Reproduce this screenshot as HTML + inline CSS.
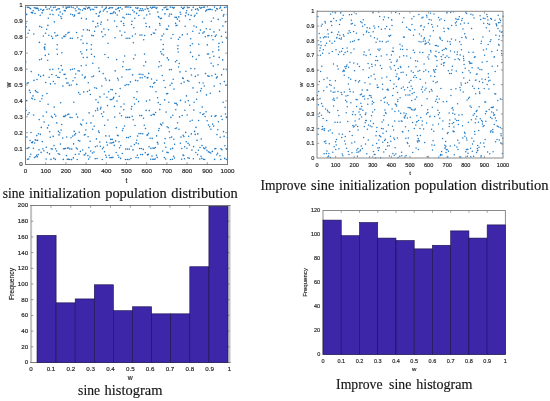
<!DOCTYPE html>
<html><head><meta charset="utf-8"><title>sine map figure</title>
<style>html,body{margin:0;padding:0;background:#fff}svg{display:block}</style></head>
<body>
<svg width="550" height="401" viewBox="0 0 550 401" font-family="'Liberation Sans', Arial, sans-serif">
<rect width="550" height="401" fill="#fff"/>
<path d="M25.7 61.9h0M25.9 23.2h0M26.1 110.5h0M26.3 26.7h0M26.5 100.5h0M26.7 14.4h0M26.9 137.0h0M27.1 83.2h0M27.3 7.2h0M27.5 159.2h0M27.7 148.2h0M27.9 114.5h0M28.1 33.2h0M28.3 82.7h0M28.5 7.3h0M28.7 159.0h0M28.9 147.6h0M29.1 112.8h0M29.3 30.3h0M29.5 90.4h0M29.7 8.0h0M29.9 156.7h0M30.1 140.5h0M30.3 92.5h0M30.6 8.8h0M30.8 154.2h0M31.0 132.5h0M31.2 71.6h0M31.4 12.6h0M31.6 142.5h0M31.8 98.3h0M32.0 12.5h0M32.2 142.7h0M32.4 98.8h0M32.6 12.9h0M32.8 141.7h0M33.0 95.9h0M33.2 10.7h0M33.4 148.3h0M33.6 115.0h0M33.8 34.0h0M34.0 80.4h0M34.2 7.7h0M34.4 157.5h0M34.6 143.0h0M34.8 99.5h0M35.0 13.5h0M35.2 139.7h0M35.4 90.5h0M35.6 8.0h0M35.8 156.7h0M36.0 140.2h0M36.2 91.8h0M36.4 8.5h0M36.6 155.2h0M36.8 135.6h0M37.0 79.5h0M37.2 8.0h0M37.4 156.7h0M37.6 140.4h0M37.8 92.2h0M38.0 8.7h0M38.2 154.6h0M38.4 133.8h0M38.6 74.9h0M38.8 10.2h0M39.0 149.8h0M39.2 119.6h0M39.4 42.4h0M39.6 59.7h0M39.8 26.4h0M40.0 101.3h0M40.2 15.2h0M40.4 134.4h0M40.6 76.4h0M40.9 9.4h0M41.1 152.4h0M41.3 127.4h0M41.5 59.1h0M41.7 27.3h0M41.9 98.8h0M42.1 12.9h0M42.3 141.6h0M42.5 95.7h0M42.7 10.6h0M42.9 148.7h0M43.1 116.1h0M43.3 36.0h0M43.5 75.4h0M43.7 9.9h0M43.9 150.7h0M44.1 122.1h0M44.3 47.6h0M44.5 48.2h0M44.7 47.0h0M44.9 49.5h0M45.1 44.2h0M45.3 55.4h0M45.5 33.2h0M45.7 82.5h0M45.9 7.3h0M46.1 159.0h0M46.3 147.3h0M46.5 112.1h0M46.7 29.2h0M46.9 93.5h0M47.1 9.3h0M47.3 152.6h0M47.5 127.9h0M47.7 60.3h0M47.9 25.4h0M48.1 104.2h0M48.3 18.3h0M48.5 125.2h0M48.7 54.3h0M48.9 35.2h0M49.1 77.3h0M49.3 8.9h0M49.5 153.9h0M49.7 131.8h0M49.9 69.6h0M50.1 14.3h0M50.3 137.3h0M50.5 83.9h0M50.8 7.1h0M51.0 159.4h0M51.2 148.8h0M51.4 116.3h0M51.6 36.3h0M51.8 74.5h0M52.0 10.4h0M52.2 149.1h0M52.4 117.5h0M52.6 38.4h0M52.8 69.3h0M53.0 14.6h0M53.2 136.4h0M53.4 81.5h0M53.6 7.5h0M53.8 158.4h0M54.0 145.6h0M54.2 107.1h0M54.4 21.9h0M54.6 114.3h0M54.8 32.8h0M55.0 83.8h0M55.2 7.1h0M55.4 159.4h0M55.6 148.7h0M55.8 116.1h0M56.0 35.9h0M56.2 75.5h0M56.4 9.9h0M56.6 151.0h0M56.8 122.9h0M57.0 49.2h0M57.2 44.8h0M57.4 54.3h0M57.6 35.2h0M57.8 77.2h0M58.0 8.9h0M58.2 153.8h0M58.4 131.4h0M58.6 68.8h0M58.8 15.1h0M59.0 134.9h0M59.2 77.5h0M59.4 8.8h0M59.6 154.2h0M59.8 132.8h0M60.0 72.2h0M60.2 12.1h0M60.4 144.1h0M60.6 102.7h0M60.9 16.6h0M61.1 130.1h0M61.3 65.6h0M61.5 18.5h0M61.7 124.5h0M61.9 52.7h0M62.1 38.1h0M62.3 69.9h0M62.5 14.0h0M62.7 138.1h0M62.9 86.1h0M63.1 7.1h0M63.3 159.4h0M63.5 148.8h0M63.7 116.4h0M63.9 36.4h0M64.1 74.4h0M64.3 10.6h0M64.5 148.8h0M64.7 116.4h0M64.9 36.4h0M65.1 74.2h0M65.3 10.7h0M65.5 148.5h0M65.7 115.4h0M65.9 34.7h0M66.1 78.6h0M66.3 8.4h0M66.5 155.6h0M66.7 137.0h0M66.9 83.1h0M67.1 7.2h0M67.3 159.2h0M67.5 148.1h0M67.7 114.5h0M67.9 33.0h0M68.1 83.0h0M68.3 7.2h0M68.5 159.2h0M68.7 148.0h0M68.9 114.0h0M69.1 32.2h0M69.3 85.4h0M69.5 7.1h0M69.7 159.5h0M69.9 149.1h0M70.1 117.4h0M70.3 38.2h0M70.5 69.8h0M70.7 14.2h0M71.0 137.7h0M71.2 85.0h0M71.4 7.1h0M71.6 159.6h0M71.8 149.1h0M72.0 117.5h0M72.2 38.4h0M72.4 69.2h0M72.6 14.7h0M72.8 136.1h0M73.0 80.8h0M73.2 7.6h0M73.4 157.9h0M73.6 143.9h0M73.8 102.3h0M74.0 16.2h0M74.2 131.4h0M74.4 68.8h0M74.6 15.1h0M74.8 134.9h0M75.0 77.7h0M75.2 8.7h0M75.4 154.5h0M75.6 133.5h0M75.8 74.0h0M76.0 10.8h0M76.2 148.0h0M76.4 114.2h0M76.6 32.5h0M76.8 84.4h0M77.0 7.1h0M77.2 159.5h0M77.4 149.0h0M77.6 117.1h0M77.8 37.8h0M78.0 70.8h0M78.2 13.3h0M78.4 140.5h0M78.6 92.6h0M78.8 8.9h0M79.0 154.1h0M79.2 132.3h0M79.4 71.0h0M79.6 13.1h0M79.8 141.1h0M80.0 94.3h0M80.2 9.7h0M80.4 151.4h0M80.6 124.1h0M80.8 51.8h0M81.0 39.8h0M81.3 65.8h0M81.5 18.3h0M81.7 125.0h0M81.9 53.8h0M82.1 36.1h0M82.3 75.0h0M82.5 10.2h0M82.7 150.0h0M82.9 120.0h0M83.1 43.3h0M83.3 57.5h0M83.5 29.7h0M83.7 91.9h0M83.9 8.6h0M84.1 155.0h0M84.3 135.0h0M84.5 78.0h0M84.7 8.6h0M84.9 154.8h0M85.1 134.6h0M85.3 76.9h0M85.5 9.1h0M85.7 153.3h0M85.9 130.0h0M86.1 65.3h0M86.3 18.9h0M86.5 123.2h0M86.7 49.9h0M86.9 43.4h0M87.1 57.4h0M87.3 29.9h0M87.5 91.5h0M87.7 8.4h0M87.9 155.6h0M88.1 136.8h0M88.3 82.7h0M88.5 7.3h0M88.7 159.1h0M88.9 147.6h0M89.1 112.9h0M89.3 30.4h0M89.5 90.2h0M89.7 7.9h0M89.9 157.0h0M90.1 141.2h0M90.3 94.5h0M90.5 9.9h0M90.7 151.0h0M90.9 122.9h0M91.2 49.2h0M91.4 44.8h0M91.6 54.2h0M91.8 35.4h0M92.0 76.7h0M92.2 9.2h0M92.4 153.0h0M92.6 129.2h0M92.8 63.3h0M93.0 21.4h0M93.2 116.0h0M93.4 35.7h0M93.6 76.1h0M93.8 9.5h0M94.0 152.1h0M94.2 126.3h0M94.4 56.6h0M94.6 31.3h0M94.8 87.8h0M95.0 7.3h0M95.2 158.8h0M95.4 146.8h0M95.6 110.7h0M95.8 26.9h0M96.0 99.8h0M96.2 13.8h0M96.4 138.9h0M96.6 88.3h0M96.8 7.4h0M97.0 158.5h0M97.2 146.0h0M97.4 108.2h0M97.6 23.4h0M97.8 110.1h0M98.0 26.0h0M98.2 102.4h0M98.4 16.3h0M98.6 131.1h0M98.8 68.0h0M99.0 15.9h0M99.2 132.5h0M99.4 71.4h0M99.6 12.8h0M99.8 142.0h0M100.0 96.9h0M100.2 11.4h0M100.4 146.2h0M100.6 108.9h0M100.8 24.3h0M101.0 107.3h0M101.2 22.1h0M101.5 113.8h0M101.7 31.9h0M101.9 86.0h0M102.1 7.1h0M102.3 159.5h0M102.5 148.8h0M102.7 116.5h0M102.9 36.6h0M103.1 73.6h0M103.3 11.0h0M103.5 147.3h0M103.7 112.0h0M103.9 29.0h0M104.1 94.0h0M104.3 9.6h0M104.5 151.8h0M104.7 125.3h0M104.9 54.5h0M105.1 34.8h0M105.3 78.3h0M105.5 8.5h0M105.7 155.2h0M105.9 135.9h0M106.1 80.1h0M106.3 7.8h0M106.5 157.3h0M106.7 142.2h0M106.9 97.3h0M107.1 11.8h0M107.3 145.1h0M107.5 105.6h0M107.7 20.0h0M107.9 120.0h0M108.1 43.3h0M108.3 57.5h0M108.5 29.8h0M108.7 91.7h0M108.9 8.5h0M109.1 155.3h0M109.3 136.0h0M109.5 80.4h0M109.7 7.7h0M109.9 157.6h0M110.1 143.0h0M110.3 99.6h0M110.5 13.6h0M110.7 139.4h0M110.9 89.6h0M111.1 7.7h0M111.3 157.6h0M111.6 143.0h0M111.8 99.6h0M112.0 13.6h0M112.2 139.4h0M112.4 89.7h0M112.6 7.8h0M112.8 157.4h0M113.0 142.6h0M113.2 98.6h0M113.4 12.7h0M113.6 142.2h0M113.8 97.2h0M114.0 11.7h0M114.2 145.4h0M114.4 106.4h0M114.6 21.0h0M114.8 117.1h0M115.0 37.7h0M115.2 70.9h0M115.4 13.1h0M115.6 140.9h0M115.8 93.6h0M116.0 9.4h0M116.2 152.5h0M116.4 127.6h0M116.6 59.6h0M116.8 26.5h0M117.0 101.1h0M117.2 15.0h0M117.4 135.2h0M117.6 78.3h0M117.8 8.5h0M118.0 155.2h0M118.2 135.8h0M118.4 80.0h0M118.6 7.9h0M118.8 157.2h0M119.0 141.8h0M119.2 96.2h0M119.4 10.9h0M119.6 147.7h0M119.8 113.3h0M120.0 31.0h0M120.2 88.5h0M120.4 7.5h0M120.6 158.4h0M120.8 145.5h0M121.0 106.8h0M121.2 21.4h0M121.5 115.8h0M121.7 35.3h0M121.9 77.0h0M122.1 9.0h0M122.3 153.5h0M122.5 130.6h0M122.7 66.8h0M122.9 17.2h0M123.1 128.5h0M123.3 61.7h0M123.5 23.5h0M123.7 109.7h0M123.9 25.5h0M124.1 104.0h0M124.3 18.0h0M124.5 126.0h0M124.7 56.0h0M124.9 32.2h0M125.1 85.4h0M125.3 7.1h0M125.5 159.5h0M125.7 149.1h0M125.9 117.4h0M126.1 38.2h0M126.3 69.7h0M126.5 14.2h0M126.7 137.6h0M126.9 84.6h0M127.1 7.1h0M127.3 159.5h0M127.5 149.1h0M127.7 117.4h0M127.9 38.2h0M128.1 69.8h0M128.3 14.2h0M128.5 137.6h0M128.7 84.8h0M128.9 7.1h0M129.1 159.6h0M129.3 149.1h0M129.5 117.4h0M129.7 38.3h0M129.9 69.4h0M130.1 14.5h0M130.3 136.5h0M130.5 81.9h0M130.7 7.4h0M130.9 158.6h0M131.1 146.3h0M131.3 109.1h0M131.6 24.5h0M131.8 106.6h0M132.0 21.3h0M132.2 116.2h0M132.4 36.1h0M132.6 74.9h0M132.8 10.2h0M133.0 149.9h0M133.2 119.8h0M133.4 42.8h0M133.6 58.8h0M133.8 27.7h0M134.0 97.6h0M134.2 11.9h0M134.4 144.6h0M134.6 104.1h0M134.8 18.2h0M135.0 125.5h0M135.2 55.0h0M135.4 34.0h0M135.6 80.4h0M135.8 7.7h0M136.0 157.5h0M136.2 142.9h0M136.4 99.3h0M136.6 13.4h0M136.8 140.2h0M137.0 91.7h0M137.2 8.5h0M137.4 155.3h0M137.6 136.1h0M137.8 80.7h0M138.0 7.7h0M138.2 157.8h0M138.4 143.7h0M138.6 101.6h0M138.8 15.5h0M139.0 133.6h0M139.2 74.2h0M139.4 10.6h0M139.6 148.5h0M139.8 115.6h0M140.0 35.1h0M140.2 77.7h0M140.4 8.7h0M140.6 154.5h0M140.8 133.6h0M141.0 74.2h0M141.2 10.6h0M141.4 148.5h0M141.7 115.6h0M141.9 35.0h0M142.1 77.8h0M142.3 8.7h0M142.5 154.6h0M142.7 133.8h0M142.9 74.7h0M143.1 10.4h0M143.3 149.4h0M143.5 118.2h0M143.7 39.8h0M143.9 65.8h0M144.1 18.3h0M144.3 125.2h0M144.5 54.1h0M144.7 35.5h0M144.9 76.6h0M145.1 9.3h0M145.3 152.8h0M145.5 128.5h0M145.7 61.9h0M145.9 23.3h0M146.1 110.4h0M146.3 26.5h0M146.5 101.1h0M146.7 15.0h0M146.9 135.1h0M147.1 78.0h0M147.3 8.6h0M147.5 154.9h0M147.7 134.9h0M147.9 77.6h0M148.1 8.8h0M148.3 154.4h0M148.5 133.3h0M148.7 73.4h0M148.9 11.2h0M149.1 146.8h0M149.3 110.6h0M149.5 26.9h0M149.7 100.0h0M149.9 14.0h0M150.1 138.3h0M150.3 86.6h0M150.5 7.2h0M150.7 159.3h0M150.9 148.4h0M151.1 115.4h0M151.3 34.6h0M151.5 79.0h0M151.8 8.2h0M152.0 156.1h0M152.2 138.4h0M152.4 86.9h0M152.6 7.2h0M152.8 159.2h0M153.0 148.1h0M153.2 114.4h0M153.4 33.0h0M153.6 83.2h0M153.8 7.2h0M154.0 159.2h0M154.2 148.2h0M154.4 114.6h0M154.6 33.2h0M154.8 82.6h0M155.0 7.3h0M155.2 159.0h0M155.4 147.5h0M155.6 112.5h0M155.8 29.8h0M156.0 91.7h0M156.2 8.5h0M156.4 155.3h0M156.6 135.9h0M156.8 80.2h0M157.0 7.8h0M157.2 157.4h0M157.4 142.4h0M157.6 97.8h0M157.8 12.1h0M158.0 144.0h0M158.2 102.6h0M158.4 16.5h0M158.6 130.6h0M158.8 66.8h0M159.0 17.2h0M159.2 128.5h0M159.4 61.7h0M159.6 23.5h0M159.8 109.6h0M160.0 25.3h0M160.2 104.5h0M160.4 18.6h0M160.6 124.1h0M160.8 51.8h0M161.0 39.8h0M161.2 65.8h0M161.4 18.3h0M161.6 125.1h0M161.8 53.9h0M162.1 35.9h0M162.3 75.5h0M162.5 9.8h0M162.7 151.0h0M162.9 123.0h0M163.1 49.4h0M163.3 44.5h0M163.5 55.0h0M163.7 34.0h0M163.9 80.5h0M164.1 7.7h0M164.3 157.6h0M164.5 143.1h0M164.7 99.9h0M164.9 13.9h0M165.1 138.6h0M165.3 87.5h0M165.5 7.3h0M165.7 159.0h0M165.9 147.3h0M166.1 112.1h0M166.3 29.1h0M166.5 93.7h0M166.7 9.4h0M166.9 152.3h0M167.1 126.8h0M167.3 57.9h0M167.5 29.2h0M167.7 93.6h0M167.9 9.3h0M168.1 152.6h0M168.3 127.7h0M168.5 59.9h0M168.7 26.1h0M168.9 102.2h0M169.1 16.1h0M169.3 131.8h0M169.5 69.8h0M169.7 14.1h0M169.9 137.8h0M170.1 85.3h0M170.3 7.1h0M170.5 159.5h0M170.7 149.1h0M170.9 117.4h0M171.1 38.3h0M171.3 69.6h0M171.5 14.3h0M171.7 137.1h0M171.9 83.4h0M172.2 7.2h0M172.4 159.3h0M172.6 148.4h0M172.8 115.3h0M173.0 34.5h0M173.2 79.2h0M173.4 8.1h0M173.6 156.3h0M173.8 139.2h0M174.0 89.1h0M174.2 7.6h0M174.4 158.0h0M174.6 144.3h0M174.8 103.2h0M175.0 17.2h0M175.2 128.5h0M175.4 61.7h0M175.6 23.4h0M175.8 109.8h0M176.0 25.7h0M176.2 103.4h0M176.4 17.4h0M176.6 128.0h0M176.8 60.5h0M177.0 25.2h0M177.2 104.9h0M177.4 19.1h0M177.6 122.7h0M177.8 48.7h0M178.0 45.8h0M178.2 52.0h0M178.4 39.3h0M178.6 67.0h0M178.8 16.9h0M179.0 129.3h0M179.2 63.5h0M179.4 21.0h0M179.6 116.9h0M179.8 37.3h0M180.0 71.9h0M180.2 12.3h0M180.4 143.3h0M180.6 100.4h0M180.8 14.3h0M181.0 137.1h0M181.2 83.5h0M181.4 7.2h0M181.6 159.3h0M181.8 148.5h0M182.1 115.5h0M182.3 34.9h0M182.5 78.1h0M182.7 8.5h0M182.9 155.0h0M183.1 135.2h0M183.3 78.5h0M183.5 8.4h0M183.7 155.5h0M183.9 136.6h0M184.1 82.1h0M184.3 7.3h0M184.5 158.8h0M184.7 146.7h0M184.9 110.2h0M185.1 26.2h0M185.3 102.0h0M185.5 15.9h0M185.7 132.4h0M185.9 71.2h0M186.1 12.9h0M186.3 141.7h0M186.5 95.9h0M186.7 10.7h0M186.9 148.3h0M187.1 115.0h0M187.3 34.0h0M187.5 80.6h0M187.7 7.7h0M187.9 157.7h0M188.1 143.4h0M188.3 100.7h0M188.5 14.6h0M188.7 136.3h0M188.9 81.2h0M189.1 7.5h0M189.3 158.2h0M189.5 145.0h0M189.7 105.3h0M189.9 19.6h0M190.1 121.2h0M190.3 45.6h0M190.5 52.4h0M190.7 38.7h0M190.9 68.5h0M191.1 15.4h0M191.3 133.9h0M191.5 75.0h0M191.7 10.1h0M191.9 150.1h0M192.2 120.2h0M192.4 43.7h0M192.6 56.6h0M192.8 31.2h0M193.0 87.9h0M193.2 7.4h0M193.4 158.7h0M193.6 146.6h0M193.8 110.1h0M194.0 26.0h0M194.2 102.3h0M194.4 16.2h0M194.6 131.4h0M194.8 68.7h0M195.0 15.2h0M195.2 134.4h0M195.4 76.4h0M195.6 9.4h0M195.8 152.5h0M196.0 127.4h0M196.2 59.2h0M196.4 27.1h0M196.6 99.3h0M196.8 13.3h0M197.0 140.4h0M197.2 92.2h0M197.4 8.7h0M197.6 154.6h0M197.8 133.9h0M198.0 75.1h0M198.2 10.1h0M198.4 150.2h0M198.6 120.5h0M198.8 44.2h0M199.0 55.4h0M199.2 33.2h0M199.4 82.7h0M199.6 7.3h0M199.8 159.0h0M200.0 147.5h0M200.2 112.7h0M200.4 30.1h0M200.6 90.9h0M200.8 8.2h0M201.0 156.3h0M201.2 139.0h0M201.4 88.5h0M201.6 7.5h0M201.8 158.4h0M202.0 145.6h0M202.2 107.1h0M202.5 21.9h0M202.7 114.5h0M202.9 33.1h0M203.1 83.0h0M203.3 7.2h0M203.5 159.2h0M203.7 147.9h0M203.9 113.8h0M204.1 31.9h0M204.3 86.0h0M204.5 7.1h0M204.7 159.5h0M204.9 148.8h0M205.1 116.5h0M205.3 36.7h0M205.5 73.6h0M205.7 11.1h0M205.9 147.2h0M206.1 111.8h0M206.3 28.7h0M206.5 94.9h0M206.7 10.1h0M206.9 150.3h0M207.1 120.8h0M207.3 44.9h0M207.5 54.0h0M207.7 35.8h0M207.9 75.9h0M208.1 9.6h0M208.3 151.7h0M208.5 125.1h0M208.7 54.0h0M208.9 35.6h0M209.1 76.2h0M209.3 9.4h0M209.5 152.3h0M209.7 126.8h0M209.9 57.8h0M210.1 29.3h0M210.3 93.3h0M210.5 9.2h0M210.7 153.0h0M210.9 129.2h0M211.1 63.3h0M211.3 21.3h0M211.5 116.1h0M211.7 35.8h0M211.9 75.7h0M212.1 9.7h0M212.3 151.4h0M212.6 124.1h0M212.8 51.8h0M213.0 39.7h0M213.2 66.1h0M213.4 18.0h0M213.6 126.1h0M213.8 56.2h0M214.0 31.9h0M214.2 86.1h0M214.4 7.1h0M214.6 159.4h0M214.8 148.8h0M215.0 116.4h0M215.2 36.4h0M215.4 74.2h0M215.6 10.7h0M215.8 148.5h0M216.0 115.6h0M216.2 35.0h0M216.4 78.0h0M216.6 8.6h0M216.8 154.8h0M217.0 134.6h0M217.2 76.9h0M217.4 9.1h0M217.6 153.2h0M217.8 129.8h0M218.0 64.8h0M218.2 19.4h0M218.4 121.7h0M218.6 46.8h0M218.8 49.9h0M219.0 43.4h0M219.2 57.4h0M219.4 30.0h0M219.6 91.4h0M219.8 8.3h0M220.0 155.7h0M220.2 137.3h0M220.4 83.8h0M220.6 7.1h0M220.8 159.4h0M221.0 148.7h0M221.2 116.2h0M221.4 36.2h0M221.6 74.9h0M221.8 10.2h0M222.0 149.8h0M222.2 119.5h0M222.4 42.3h0M222.7 59.9h0M222.9 26.1h0M223.1 102.2h0M223.3 16.1h0M223.5 131.6h0M223.7 69.3h0M223.9 14.6h0M224.1 136.4h0M224.3 81.6h0M224.5 7.5h0M224.7 158.4h0M224.9 145.7h0M225.1 107.2h0M225.3 22.0h0M225.5 114.0h0M225.7 32.2h0M225.9 85.3h0M226.1 7.1h0M226.3 159.5h0M226.5 149.1h0M226.7 117.4h0M226.9 38.2h0M227.1 69.7h0M227.3 14.3h0M227.5 137.4h0" stroke="#1f7bc6" stroke-width="1.56" stroke-linecap="round" fill="none"/>
<rect x="25.50" y="5.50" width="202.00" height="159.00" fill="none" stroke="#7c7c7c" stroke-width="1.0"/>
<path d="M45.70 164.50v-2.2M45.70 5.50v2.2M65.90 164.50v-2.2M65.90 5.50v2.2M86.10 164.50v-2.2M86.10 5.50v2.2M106.30 164.50v-2.2M106.30 5.50v2.2M126.50 164.50v-2.2M126.50 5.50v2.2M146.70 164.50v-2.2M146.70 5.50v2.2M166.90 164.50v-2.2M166.90 5.50v2.2M187.10 164.50v-2.2M187.10 5.50v2.2M207.30 164.50v-2.2M207.30 5.50v2.2M25.50 148.60h2.2M227.50 148.60h-2.2M25.50 132.70h2.2M227.50 132.70h-2.2M25.50 116.80h2.2M227.50 116.80h-2.2M25.50 100.90h2.2M227.50 100.90h-2.2M25.50 85.00h2.2M227.50 85.00h-2.2M25.50 69.10h2.2M227.50 69.10h-2.2M25.50 53.20h2.2M227.50 53.20h-2.2M25.50 37.30h2.2M227.50 37.30h-2.2M25.50 21.40h2.2M227.50 21.40h-2.2" stroke="#7c7c7c" stroke-width="0.8" fill="none"/>
<g font-size="6.2" fill="#222" stroke="#222" stroke-width="0.16">
<text x="25.50" y="173.40" text-anchor="middle">0</text>
<text x="45.70" y="173.40" text-anchor="middle">100</text>
<text x="65.90" y="173.40" text-anchor="middle">200</text>
<text x="86.10" y="173.40" text-anchor="middle">300</text>
<text x="106.30" y="173.40" text-anchor="middle">400</text>
<text x="126.50" y="173.40" text-anchor="middle">500</text>
<text x="146.70" y="173.40" text-anchor="middle">600</text>
<text x="166.90" y="173.40" text-anchor="middle">700</text>
<text x="187.10" y="173.40" text-anchor="middle">800</text>
<text x="207.30" y="173.40" text-anchor="middle">900</text>
<text x="227.50" y="173.40" text-anchor="middle">1000</text>
<text x="22.80" y="166.42" text-anchor="end">0</text>
<text x="22.80" y="150.52" text-anchor="end">0.1</text>
<text x="22.80" y="134.62" text-anchor="end">0.2</text>
<text x="22.80" y="118.72" text-anchor="end">0.3</text>
<text x="22.80" y="102.82" text-anchor="end">0.4</text>
<text x="22.80" y="86.92" text-anchor="end">0.5</text>
<text x="22.80" y="71.02" text-anchor="end">0.6</text>
<text x="22.80" y="55.12" text-anchor="end">0.7</text>
<text x="22.80" y="39.22" text-anchor="end">0.8</text>
<text x="22.80" y="23.32" text-anchor="end">0.9</text>
<text x="22.80" y="7.42" text-anchor="end">1</text>
</g>
<g font-size="6.8" fill="#222" stroke="#222" stroke-width="0.16">
<text x="126.50" y="182.80" text-anchor="middle">t</text>
<text transform="translate(10.60 85.00) rotate(-90)" text-anchor="middle">w</text>
</g>
<path d="M317.2 99.2h0M317.4 95.6h0M317.6 11.3h0M317.7 70.4h0M317.9 16.6h0M318.1 134.3h0M318.3 104.7h0M318.5 128.6h0M318.7 91.5h0M318.9 44.8h0M319.0 116.5h0M319.2 33.4h0M319.4 81.6h0M319.6 113.0h0M319.8 50.7h0M320.0 98.4h0M320.2 48.0h0M320.3 37.7h0M320.5 55.3h0M320.7 71.4h0M320.9 41.7h0M321.1 45.5h0M321.3 25.9h0M321.5 115.3h0M321.6 103.6h0M321.8 66.3h0M322.0 129.4h0M322.2 24.2h0M322.4 126.6h0M322.6 53.2h0M322.8 106.3h0M323.0 128.9h0M323.1 118.5h0M323.3 49.8h0M323.5 37.7h0M323.7 90.8h0M323.9 79.6h0M324.1 153.8h0M324.3 130.5h0M324.4 141.8h0M324.6 128.8h0M324.8 36.8h0M325.0 21.5h0M325.2 45.6h0M325.4 23.1h0M325.6 109.0h0M325.7 141.1h0M325.9 143.3h0M326.1 37.0h0M326.3 153.6h0M326.5 43.3h0M326.7 120.6h0M326.9 87.1h0M327.0 151.0h0M327.2 78.1h0M327.4 110.2h0M327.6 29.7h0M327.8 157.1h0M328.0 111.7h0M328.2 34.1h0M328.3 37.0h0M328.5 130.9h0M328.7 155.9h0M328.9 153.4h0M329.1 53.2h0M329.3 143.7h0M329.5 112.5h0M329.6 84.6h0M329.8 41.1h0M330.0 80.4h0M330.2 130.1h0M330.4 157.4h0M330.6 13.9h0M330.8 21.4h0M330.9 91.1h0M331.1 85.2h0M331.3 21.5h0M331.5 32.6h0M331.7 25.4h0M331.9 32.2h0M332.1 43.3h0M332.3 51.5h0M332.4 133.1h0M332.6 12.0h0M332.8 152.3h0M333.0 99.7h0M333.2 92.3h0M333.4 63.9h0M333.6 106.0h0M333.7 18.4h0M333.9 98.2h0M334.1 146.8h0M334.3 88.1h0M334.5 100.2h0M334.7 41.3h0M334.9 91.9h0M335.0 122.3h0M335.2 12.8h0M335.4 80.8h0M335.6 141.8h0M335.8 149.5h0M336.0 49.8h0M336.2 145.0h0M336.3 20.7h0M336.5 139.6h0M336.7 37.9h0M336.9 37.4h0M337.1 98.0h0M337.3 66.0h0M337.5 122.2h0M337.6 34.5h0M337.8 110.4h0M338.0 91.6h0M338.2 69.1h0M338.4 54.4h0M338.6 32.1h0M338.8 115.5h0M338.9 148.8h0M339.1 134.0h0M339.3 38.6h0M339.5 24.6h0M339.7 52.1h0M339.9 35.3h0M340.1 122.2h0M340.2 19.7h0M340.4 20.0h0M340.6 13.0h0M340.8 12.7h0M341.0 39.2h0M341.2 92.5h0M341.4 37.9h0M341.6 51.3h0M341.7 137.6h0M341.9 94.5h0M342.1 18.5h0M342.3 154.1h0M342.5 134.2h0M342.7 48.4h0M342.9 155.8h0M343.0 71.5h0M343.2 15.3h0M343.4 34.8h0M343.6 70.3h0M343.8 54.5h0M344.0 36.3h0M344.2 75.2h0M344.3 92.1h0M344.5 70.9h0M344.7 140.9h0M344.9 66.8h0M345.1 52.4h0M345.3 136.5h0M345.5 144.0h0M345.6 100.3h0M345.8 68.6h0M346.0 95.9h0M346.2 112.8h0M346.4 66.5h0M346.6 148.2h0M346.8 101.7h0M346.9 65.0h0M347.1 47.9h0M347.3 106.7h0M347.5 51.6h0M347.7 121.6h0M347.9 95.4h0M348.1 33.2h0M348.2 151.6h0M348.4 83.9h0M348.6 67.2h0M348.8 77.7h0M349.0 154.4h0M349.2 30.8h0M349.4 14.8h0M349.6 89.3h0M349.7 131.4h0M349.9 62.3h0M350.1 91.6h0M350.3 32.6h0M350.5 41.9h0M350.7 79.2h0M350.9 102.8h0M351.0 52.8h0M351.2 24.1h0M351.4 20.3h0M351.6 14.4h0M351.8 142.9h0M352.0 152.7h0M352.2 135.4h0M352.3 23.6h0M352.5 114.4h0M352.7 41.6h0M352.9 125.4h0M353.1 111.8h0M353.3 91.9h0M353.5 126.9h0M353.6 31.5h0M353.8 63.0h0M354.0 49.1h0M354.2 126.3h0M354.4 40.7h0M354.6 70.8h0M354.8 142.1h0M354.9 25.2h0M355.1 120.9h0M355.3 114.8h0M355.5 80.6h0M355.7 80.7h0M355.9 125.0h0M356.1 99.6h0M356.2 13.8h0M356.4 33.3h0M356.6 106.5h0M356.8 150.0h0M357.0 152.3h0M357.2 99.7h0M357.4 156.3h0M357.5 64.1h0M357.7 126.4h0M357.9 148.6h0M358.1 130.0h0M358.3 39.7h0M358.5 81.9h0M358.7 151.9h0M358.9 39.4h0M359.0 112.1h0M359.2 119.0h0M359.4 66.4h0M359.6 80.8h0M359.8 109.1h0M360.0 150.9h0M360.2 114.8h0M360.3 94.8h0M360.5 149.9h0M360.7 21.8h0M360.9 103.2h0M361.1 108.9h0M361.3 145.9h0M361.5 94.1h0M361.6 116.9h0M361.8 106.6h0M362.0 22.7h0M362.2 90.1h0M362.4 148.5h0M362.6 26.3h0M362.8 96.4h0M362.9 110.2h0M363.1 69.7h0M363.3 19.7h0M363.5 34.8h0M363.7 137.5h0M363.9 54.8h0M364.1 95.9h0M364.2 52.0h0M364.4 126.5h0M364.6 98.9h0M364.8 24.7h0M365.0 82.8h0M365.2 122.8h0M365.4 114.5h0M365.5 144.1h0M365.7 120.5h0M365.9 112.9h0M366.1 55.4h0M366.3 120.5h0M366.5 31.9h0M366.7 31.1h0M366.8 153.8h0M367.0 90.1h0M367.2 27.7h0M367.4 129.3h0M367.6 89.9h0M367.8 104.2h0M368.0 98.7h0M368.1 63.4h0M368.3 140.0h0M368.5 125.1h0M368.7 77.5h0M368.9 32.5h0M369.1 50.1h0M369.3 67.9h0M369.5 95.4h0M369.6 156.9h0M369.8 28.2h0M370.0 83.9h0M370.2 126.0h0M370.4 54.6h0M370.6 120.9h0M370.8 36.1h0M370.9 95.7h0M371.1 76.0h0M371.3 97.4h0M371.5 115.8h0M371.7 64.3h0M371.9 126.7h0M372.1 66.5h0M372.2 103.9h0M372.4 101.2h0M372.6 112.1h0M372.8 145.2h0M373.0 12.4h0M373.2 31.7h0M373.4 123.5h0M373.5 151.4h0M373.7 102.6h0M373.9 26.1h0M374.1 74.2h0M374.3 154.6h0M374.5 37.7h0M374.7 109.7h0M374.8 27.9h0M375.0 154.4h0M375.2 78.9h0M375.4 65.0h0M375.6 157.9h0M375.8 60.6h0M376.0 135.7h0M376.1 42.2h0M376.3 56.5h0M376.5 131.6h0M376.7 143.4h0M376.9 127.6h0M377.1 84.9h0M377.3 38.9h0M377.4 87.4h0M377.6 60.5h0M377.8 148.0h0M378.0 49.3h0M378.2 87.2h0M378.4 150.6h0M378.6 26.8h0M378.8 12.1h0M378.9 140.0h0M379.1 50.4h0M379.3 147.7h0M379.5 135.5h0M379.7 16.6h0M379.9 41.3h0M380.1 49.1h0M380.2 136.3h0M380.4 65.5h0M380.6 157.7h0M380.8 136.8h0M381.0 100.6h0M381.2 55.9h0M381.4 29.2h0M381.5 128.4h0M381.7 68.6h0M381.9 78.0h0M382.1 121.9h0M382.3 41.4h0M382.5 84.3h0M382.7 89.3h0M382.8 142.3h0M383.0 133.2h0M383.2 128.8h0M383.4 19.8h0M383.6 120.1h0M383.8 151.9h0M384.0 98.2h0M384.1 115.4h0M384.3 16.9h0M384.5 102.2h0M384.7 140.4h0M384.9 110.1h0M385.1 28.8h0M385.3 97.2h0M385.4 139.2h0M385.6 112.4h0M385.8 149.5h0M386.0 113.4h0M386.2 42.1h0M386.4 131.2h0M386.6 26.4h0M386.8 77.0h0M386.9 54.8h0M387.1 89.4h0M387.3 103.1h0M387.5 145.9h0M387.7 142.5h0M387.9 89.2h0M388.1 41.3h0M388.2 90.3h0M388.4 124.9h0M388.6 17.7h0M388.8 104.8h0M389.0 35.8h0M389.2 145.7h0M389.4 156.1h0M389.5 36.3h0M389.7 29.3h0M389.9 59.6h0M390.1 66.9h0M390.3 80.5h0M390.5 136.3h0M390.7 35.2h0M390.8 141.2h0M391.0 68.9h0M391.2 62.3h0M391.4 55.0h0M391.6 19.8h0M391.8 20.0h0M392.0 25.4h0M392.1 109.0h0M392.3 51.3h0M392.5 126.2h0M392.7 95.4h0M392.9 153.4h0M393.1 48.0h0M393.3 51.5h0M393.4 88.5h0M393.6 130.1h0M393.8 138.0h0M394.0 83.9h0M394.2 155.3h0M394.4 65.5h0M394.6 139.5h0M394.7 121.1h0M394.9 111.4h0M395.1 147.8h0M395.3 103.9h0M395.5 70.3h0M395.7 12.6h0M395.9 153.9h0M396.1 104.7h0M396.2 76.5h0M396.4 86.4h0M396.6 105.9h0M396.8 61.4h0M397.0 73.9h0M397.2 60.0h0M397.4 138.0h0M397.5 92.4h0M397.7 101.6h0M397.9 99.5h0M398.1 157.4h0M398.3 68.4h0M398.5 79.4h0M398.7 111.0h0M398.8 78.0h0M399.0 121.2h0M399.2 78.4h0M399.4 13.7h0M399.6 57.0h0M399.8 156.3h0M400.0 44.2h0M400.1 97.8h0M400.3 66.6h0M400.5 49.2h0M400.7 113.3h0M400.9 67.6h0M401.1 72.6h0M401.3 121.1h0M401.4 88.3h0M401.6 152.2h0M401.8 155.8h0M402.0 121.3h0M402.2 46.0h0M402.4 131.6h0M402.6 22.3h0M402.7 49.5h0M402.9 131.9h0M403.1 72.3h0M403.3 87.1h0M403.5 36.9h0M403.7 55.8h0M403.9 17.7h0M404.0 113.1h0M404.2 117.2h0M404.4 37.2h0M404.6 89.7h0M404.8 118.1h0M405.0 157.0h0M405.2 115.9h0M405.4 115.4h0M405.5 126.8h0M405.7 94.9h0M405.9 138.3h0M406.1 155.5h0M406.3 113.7h0M406.5 75.0h0M406.7 27.2h0M406.8 55.9h0M407.0 49.5h0M407.2 142.4h0M407.4 118.0h0M407.6 87.5h0M407.8 143.6h0M408.0 94.9h0M408.1 107.5h0M408.3 138.0h0M408.5 130.7h0M408.7 66.8h0M408.9 29.2h0M409.1 29.6h0M409.3 82.2h0M409.4 146.0h0M409.6 107.8h0M409.8 95.1h0M410.0 90.7h0M410.2 117.2h0M410.4 30.2h0M410.6 57.9h0M410.7 108.1h0M410.9 80.5h0M411.1 86.2h0M411.3 71.1h0M411.5 109.5h0M411.7 100.5h0M411.9 18.8h0M412.0 24.4h0M412.2 93.5h0M412.4 88.8h0M412.6 122.5h0M412.8 152.6h0M413.0 110.1h0M413.2 72.4h0M413.3 50.2h0M413.5 35.2h0M413.7 77.2h0M413.9 16.6h0M414.1 92.5h0M414.3 128.5h0M414.5 52.6h0M414.6 109.9h0M414.8 29.8h0M415.0 75.4h0M415.2 99.3h0M415.4 108.9h0M415.6 60.7h0M415.8 124.9h0M416.0 66.7h0M416.1 147.9h0M416.3 77.4h0M416.5 122.0h0M416.7 97.1h0M416.9 115.7h0M417.1 121.5h0M417.3 141.0h0M417.4 135.6h0M417.6 61.2h0M417.8 142.1h0M418.0 71.3h0M418.2 138.5h0M418.4 149.4h0M418.6 120.5h0M418.7 140.3h0M418.9 14.5h0M419.1 41.6h0M419.3 140.9h0M419.5 34.1h0M419.7 70.6h0M419.9 52.3h0M420.0 128.4h0M420.2 79.2h0M420.4 135.6h0M420.6 26.1h0M420.8 117.5h0M421.0 42.1h0M421.2 25.6h0M421.3 36.0h0M421.5 89.3h0M421.7 105.6h0M421.9 17.9h0M422.1 125.0h0M422.3 121.1h0M422.5 87.1h0M422.6 92.1h0M422.8 52.6h0M423.0 17.2h0M423.2 41.3h0M423.4 29.8h0M423.6 129.0h0M423.8 71.6h0M423.9 39.1h0M424.1 63.9h0M424.3 27.0h0M424.5 37.7h0M424.7 142.6h0M424.9 90.1h0M425.1 44.2h0M425.3 41.0h0M425.4 43.6h0M425.6 82.9h0M425.8 70.0h0M426.0 88.3h0M426.2 43.3h0M426.4 114.1h0M426.6 122.9h0M426.7 15.3h0M426.9 16.9h0M427.1 98.7h0M427.3 156.8h0M427.5 112.8h0M427.7 109.7h0M427.9 57.0h0M428.0 112.4h0M428.2 42.3h0M428.4 23.6h0M428.6 71.7h0M428.8 59.0h0M429.0 54.7h0M429.2 19.5h0M429.3 40.1h0M429.5 91.7h0M429.7 44.1h0M429.9 116.8h0M430.1 116.3h0M430.3 35.9h0M430.5 13.3h0M430.6 50.5h0M430.8 76.1h0M431.0 52.0h0M431.2 20.1h0M431.4 89.5h0M431.6 129.3h0M431.8 24.4h0M431.9 145.0h0M432.1 91.0h0M432.3 107.3h0M432.5 150.1h0M432.7 27.0h0M432.9 125.1h0M433.1 140.7h0M433.2 81.3h0M433.4 30.7h0M433.6 69.7h0M433.8 131.3h0M434.0 13.9h0M434.2 71.1h0M434.4 145.3h0M434.6 116.5h0M434.7 76.6h0M434.9 72.3h0M435.1 55.7h0M435.3 45.6h0M435.5 101.3h0M435.7 69.4h0M435.9 82.7h0M436.0 51.2h0M436.2 56.8h0M436.4 99.3h0M436.6 45.4h0M436.8 66.3h0M437.0 60.5h0M437.2 96.3h0M437.3 81.7h0M437.5 26.1h0M437.7 102.4h0M437.9 110.3h0M438.1 46.3h0M438.3 114.8h0M438.5 123.9h0M438.6 17.4h0M438.8 157.3h0M439.0 52.5h0M439.2 99.0h0M439.4 112.7h0M439.6 20.0h0M439.8 118.2h0M439.9 37.2h0M440.1 38.4h0M440.3 155.4h0M440.5 39.1h0M440.7 154.6h0M440.9 88.5h0M441.1 19.0h0M441.2 56.4h0M441.4 64.2h0M441.6 151.4h0M441.8 59.6h0M442.0 155.0h0M442.2 40.5h0M442.4 50.4h0M442.6 138.5h0M442.7 129.1h0M442.9 121.0h0M443.1 54.8h0M443.3 101.8h0M443.5 63.0h0M443.7 65.6h0M443.9 28.3h0M444.0 49.6h0M444.2 31.5h0M444.4 62.7h0M444.6 20.4h0M444.8 145.2h0M445.0 148.3h0M445.2 147.7h0M445.3 57.4h0M445.5 48.3h0M445.7 141.5h0M445.9 146.3h0M446.1 152.5h0M446.3 149.5h0M446.5 49.0h0M446.6 101.4h0M446.8 12.7h0M447.0 56.0h0M447.2 149.7h0M447.4 133.4h0M447.6 41.3h0M447.8 157.1h0M447.9 28.3h0M448.1 132.5h0M448.3 70.8h0M448.5 151.2h0M448.7 29.0h0M448.9 57.5h0M449.1 113.0h0M449.2 126.4h0M449.4 123.7h0M449.6 73.6h0M449.8 120.1h0M450.0 41.8h0M450.2 146.0h0M450.4 44.3h0M450.5 51.0h0M450.7 12.4h0M450.9 95.6h0M451.1 89.6h0M451.3 73.6h0M451.5 38.9h0M451.7 25.4h0M451.9 70.0h0M452.0 108.2h0M452.2 123.5h0M452.4 66.2h0M452.6 107.8h0M452.8 113.2h0M453.0 131.0h0M453.2 110.0h0M453.3 11.8h0M453.5 131.8h0M453.7 122.5h0M453.9 127.1h0M454.1 131.5h0M454.3 154.7h0M454.5 51.9h0M454.6 145.2h0M454.8 114.3h0M455.0 59.4h0M455.2 119.0h0M455.4 23.1h0M455.6 40.0h0M455.8 18.8h0M455.9 88.7h0M456.1 25.2h0M456.3 70.9h0M456.5 21.8h0M456.7 120.4h0M456.9 146.9h0M457.1 54.4h0M457.2 19.5h0M457.4 51.9h0M457.6 103.7h0M457.8 140.3h0M458.0 149.4h0M458.2 58.8h0M458.4 124.4h0M458.5 120.4h0M458.7 19.2h0M458.9 115.0h0M459.1 142.9h0M459.3 16.8h0M459.5 59.7h0M459.7 41.8h0M459.8 157.1h0M460.0 87.6h0M460.2 54.9h0M460.4 89.9h0M460.6 24.1h0M460.8 157.1h0M461.0 82.9h0M461.1 44.6h0M461.3 85.0h0M461.5 49.8h0M461.7 20.5h0M461.9 37.6h0M462.1 114.7h0M462.3 18.5h0M462.5 125.8h0M462.6 72.6h0M462.8 138.1h0M463.0 28.9h0M463.2 91.9h0M463.4 56.2h0M463.6 58.5h0M463.8 77.9h0M463.9 60.5h0M464.1 64.5h0M464.3 23.0h0M464.5 132.3h0M464.7 33.7h0M464.9 136.2h0M465.1 133.6h0M465.2 68.3h0M465.4 83.2h0M465.6 36.8h0M465.8 151.8h0M466.0 11.7h0M466.2 38.0h0M466.4 149.6h0M466.5 138.0h0M466.7 13.6h0M466.9 140.1h0M467.1 99.9h0M467.3 156.3h0M467.5 82.6h0M467.7 149.3h0M467.8 149.6h0M468.0 153.2h0M468.2 23.3h0M468.4 122.2h0M468.6 98.4h0M468.8 52.3h0M469.0 70.7h0M469.1 61.6h0M469.3 97.3h0M469.5 80.3h0M469.7 61.9h0M469.9 63.4h0M470.1 105.9h0M470.3 72.7h0M470.4 63.3h0M470.6 148.2h0M470.8 156.7h0M471.0 14.2h0M471.2 107.2h0M471.4 119.7h0M471.6 28.6h0M471.8 63.2h0M471.9 138.3h0M472.1 67.7h0M472.3 151.3h0M472.5 144.0h0M472.7 86.2h0M472.9 14.9h0M473.1 52.2h0M473.2 115.2h0M473.4 39.2h0M473.6 156.2h0M473.8 141.2h0M474.0 17.9h0M474.2 88.6h0M474.4 57.2h0M474.5 113.7h0M474.7 131.6h0M474.9 134.3h0M475.1 56.7h0M475.3 122.8h0M475.5 80.2h0M475.7 93.7h0M475.8 119.1h0M476.0 80.0h0M476.2 111.6h0M476.4 74.3h0M476.6 152.6h0M476.8 116.4h0M477.0 110.5h0M477.1 74.1h0M477.3 148.5h0M477.5 150.8h0M477.7 145.4h0M477.9 150.3h0M478.1 68.1h0M478.3 68.1h0M478.4 122.3h0M478.6 88.4h0M478.8 130.5h0M479.0 147.3h0M479.2 106.7h0M479.4 81.6h0M479.6 91.9h0M479.8 93.6h0M479.9 69.5h0M480.1 15.8h0M480.3 118.8h0M480.5 143.0h0M480.7 19.4h0M480.9 157.1h0M481.1 43.4h0M481.2 155.8h0M481.4 41.2h0M481.6 120.5h0M481.8 69.8h0M482.0 78.9h0M482.2 62.3h0M482.4 124.0h0M482.5 121.7h0M482.7 82.6h0M482.9 37.0h0M483.1 126.6h0M483.3 18.3h0M483.5 50.0h0M483.7 23.3h0M483.8 142.9h0M484.0 125.6h0M484.2 88.6h0M484.4 146.7h0M484.6 55.3h0M484.8 102.0h0M485.0 18.6h0M485.1 139.4h0M485.3 79.6h0M485.5 113.8h0M485.7 102.0h0M485.9 121.2h0M486.1 111.2h0M486.3 27.7h0M486.4 49.0h0M486.6 111.6h0M486.8 14.6h0M487.0 61.4h0M487.2 84.6h0M487.4 16.8h0M487.6 151.9h0M487.7 23.6h0M487.9 19.9h0M488.1 44.5h0M488.3 73.8h0M488.5 77.2h0M488.7 81.0h0M488.9 89.1h0M489.1 24.6h0M489.2 109.4h0M489.4 31.1h0M489.6 24.2h0M489.8 153.8h0M490.0 80.2h0M490.2 41.5h0M490.4 131.9h0M490.5 117.3h0M490.7 18.6h0M490.9 39.7h0M491.1 130.8h0M491.3 107.6h0M491.5 19.2h0M491.7 112.1h0M491.8 51.5h0M492.0 118.4h0M492.2 66.3h0M492.4 132.0h0M492.6 107.4h0M492.8 129.6h0M493.0 131.9h0M493.1 151.7h0M493.3 107.0h0M493.5 113.0h0M493.7 115.3h0M493.9 84.4h0M494.1 57.3h0M494.3 124.6h0M494.4 56.7h0M494.6 114.8h0M494.8 93.7h0M495.0 20.3h0M495.2 71.5h0M495.4 118.0h0M495.6 141.8h0M495.7 94.0h0M495.9 35.2h0M496.1 23.8h0M496.3 120.8h0M496.5 24.8h0M496.7 25.8h0M496.9 110.1h0M497.0 139.5h0M497.2 126.1h0M497.4 50.3h0M497.6 65.9h0M497.8 100.4h0M498.0 28.6h0M498.2 15.2h0M498.4 126.7h0M498.5 22.8h0M498.7 44.4h0M498.9 39.5h0M499.1 45.3h0M499.3 140.1h0M499.5 35.9h0M499.7 18.9h0M499.8 30.9h0M500.0 22.5h0M500.2 127.6h0M500.4 99.1h0M500.6 20.6h0M500.8 143.0h0M501.0 133.8h0M501.1 135.8h0M501.3 32.3h0M501.5 50.7h0M501.7 53.5h0M501.9 62.6h0M502.1 144.1h0M502.3 31.8h0M502.4 153.5h0M502.6 138.2h0M502.8 35.8h0M503.0 16.3h0" stroke="#1f7bc6" stroke-width="1.48" stroke-linecap="round" fill="none"/>
<rect x="317.00" y="11.30" width="186.00" height="146.70" fill="none" stroke="#888" stroke-width="1.0"/>
<path d="M335.60 158.00v-2.2M335.60 11.30v2.2M354.20 158.00v-2.2M354.20 11.30v2.2M372.80 158.00v-2.2M372.80 11.30v2.2M391.40 158.00v-2.2M391.40 11.30v2.2M410.00 158.00v-2.2M410.00 11.30v2.2M428.60 158.00v-2.2M428.60 11.30v2.2M447.20 158.00v-2.2M447.20 11.30v2.2M465.80 158.00v-2.2M465.80 11.30v2.2M484.40 158.00v-2.2M484.40 11.30v2.2M317.00 143.33h2.2M503.00 143.33h-2.2M317.00 128.66h2.2M503.00 128.66h-2.2M317.00 113.99h2.2M503.00 113.99h-2.2M317.00 99.32h2.2M503.00 99.32h-2.2M317.00 84.65h2.2M503.00 84.65h-2.2M317.00 69.98h2.2M503.00 69.98h-2.2M317.00 55.31h2.2M503.00 55.31h-2.2M317.00 40.64h2.2M503.00 40.64h-2.2M317.00 25.97h2.2M503.00 25.97h-2.2" stroke="#888" stroke-width="0.8" fill="none"/>
<g font-size="5.6" fill="#222" stroke="#222" stroke-width="0.16">
<text x="317.00" y="167.00" text-anchor="middle">0</text>
<text x="335.60" y="167.00" text-anchor="middle">100</text>
<text x="354.20" y="167.00" text-anchor="middle">200</text>
<text x="372.80" y="167.00" text-anchor="middle">300</text>
<text x="391.40" y="167.00" text-anchor="middle">400</text>
<text x="410.00" y="167.00" text-anchor="middle">500</text>
<text x="428.60" y="167.00" text-anchor="middle">600</text>
<text x="447.20" y="167.00" text-anchor="middle">700</text>
<text x="465.80" y="167.00" text-anchor="middle">800</text>
<text x="484.40" y="167.00" text-anchor="middle">900</text>
<text x="503.00" y="167.00" text-anchor="middle">1000</text>
<text x="314.40" y="160.15" text-anchor="end">0</text>
<text x="314.40" y="145.48" text-anchor="end">0.1</text>
<text x="314.40" y="130.81" text-anchor="end">0.2</text>
<text x="314.40" y="116.14" text-anchor="end">0.3</text>
<text x="314.40" y="101.47" text-anchor="end">0.4</text>
<text x="314.40" y="86.80" text-anchor="end">0.5</text>
<text x="314.40" y="72.13" text-anchor="end">0.6</text>
<text x="314.40" y="57.46" text-anchor="end">0.7</text>
<text x="314.40" y="42.79" text-anchor="end">0.8</text>
<text x="314.40" y="28.12" text-anchor="end">0.9</text>
<text x="314.40" y="13.45" text-anchor="end">1</text>
</g>
<g font-size="6.2" fill="#222" stroke="#222" stroke-width="0.16">
<text x="410.00" y="174.70" text-anchor="middle">t</text>
<text transform="translate(303.00 84.65) rotate(-90)" text-anchor="middle">w</text>
</g>
<path d="M31.10 205.00V363.00M229.50 205.00V363.00" stroke="#c2c2c2" stroke-width="2.0" fill="none"/>
<path d="M30.10 205.50H230.50M30.10 362.50H230.50" stroke="#7c7c7c" stroke-width="1.0" fill="none"/>
<path d="M50.94 362.50v-2.2M50.94 205.50v2.2M70.78 362.50v-2.2M70.78 205.50v2.2M90.62 362.50v-2.2M90.62 205.50v2.2M110.46 362.50v-2.2M110.46 205.50v2.2M130.30 362.50v-2.2M130.30 205.50v2.2M150.14 362.50v-2.2M150.14 205.50v2.2M169.98 362.50v-2.2M169.98 205.50v2.2M189.82 362.50v-2.2M189.82 205.50v2.2M209.66 362.50v-2.2M209.66 205.50v2.2M31.10 346.80h2.2M229.50 346.80h-2.2M31.10 331.10h2.2M229.50 331.10h-2.2M31.10 315.40h2.2M229.50 315.40h-2.2M31.10 299.70h2.2M229.50 299.70h-2.2M31.10 284.00h2.2M229.50 284.00h-2.2M31.10 268.30h2.2M229.50 268.30h-2.2M31.10 252.60h2.2M229.50 252.60h-2.2M31.10 236.90h2.2M229.50 236.90h-2.2M31.10 221.20h2.2M229.50 221.20h-2.2" stroke="#7c7c7c" stroke-width="0.8" fill="none"/>
<g font-size="6.2" fill="#222" stroke="#222" stroke-width="0.16">
<text x="31.10" y="371.40" text-anchor="middle">0</text>
<text x="50.94" y="371.40" text-anchor="middle">0.1</text>
<text x="70.78" y="371.40" text-anchor="middle">0.2</text>
<text x="90.62" y="371.40" text-anchor="middle">0.3</text>
<text x="110.46" y="371.40" text-anchor="middle">0.4</text>
<text x="130.30" y="371.40" text-anchor="middle">0.5</text>
<text x="150.14" y="371.40" text-anchor="middle">0.6</text>
<text x="169.98" y="371.40" text-anchor="middle">0.7</text>
<text x="189.82" y="371.40" text-anchor="middle">0.8</text>
<text x="209.66" y="371.40" text-anchor="middle">0.9</text>
<text x="229.50" y="371.40" text-anchor="middle">1</text>
<text x="28.10" y="364.42" text-anchor="end">0</text>
<text x="28.10" y="348.72" text-anchor="end">20</text>
<text x="28.10" y="333.02" text-anchor="end">40</text>
<text x="28.10" y="317.32" text-anchor="end">60</text>
<text x="28.10" y="301.62" text-anchor="end">80</text>
<text x="28.10" y="285.92" text-anchor="end">100</text>
<text x="28.10" y="270.22" text-anchor="end">120</text>
<text x="28.10" y="254.52" text-anchor="end">140</text>
<text x="28.10" y="238.82" text-anchor="end">160</text>
<text x="28.10" y="223.12" text-anchor="end">180</text>
<text x="28.10" y="207.42" text-anchor="end">200</text>
</g>
<g font-size="6.8" fill="#222" stroke="#222" stroke-width="0.16">
<text x="130.30" y="380.00" text-anchor="middle">w</text>
<text transform="translate(14.10 284.00) rotate(-90)" text-anchor="middle">Frequency</text>
</g>
<rect x="37.00" y="235.33" width="19.10" height="127.17" fill="#3d26a8" stroke="#1a1148" stroke-width="0.6"/>
<rect x="56.10" y="302.84" width="19.10" height="59.66" fill="#3d26a8" stroke="#1a1148" stroke-width="0.6"/>
<rect x="75.20" y="298.92" width="19.10" height="63.58" fill="#3d26a8" stroke="#1a1148" stroke-width="0.6"/>
<rect x="94.30" y="284.78" width="19.10" height="77.72" fill="#3d26a8" stroke="#1a1148" stroke-width="0.6"/>
<rect x="113.40" y="310.69" width="19.10" height="51.81" fill="#3d26a8" stroke="#1a1148" stroke-width="0.6"/>
<rect x="132.50" y="306.76" width="19.10" height="55.74" fill="#3d26a8" stroke="#1a1148" stroke-width="0.6"/>
<rect x="151.60" y="313.83" width="19.10" height="48.67" fill="#3d26a8" stroke="#1a1148" stroke-width="0.6"/>
<rect x="170.70" y="313.83" width="19.10" height="48.67" fill="#3d26a8" stroke="#1a1148" stroke-width="0.6"/>
<rect x="189.80" y="266.73" width="19.10" height="95.77" fill="#3d26a8" stroke="#1a1148" stroke-width="0.6"/>
<rect x="208.90" y="206.28" width="19.10" height="156.22" fill="#3d26a8" stroke="#1a1148" stroke-width="0.6"/>
<rect x="323.00" y="210.50" width="182.40" height="143.90" fill="none" stroke="#8a8a8a" stroke-width="1.0"/>
<path d="M341.24 354.40v-2.2M341.24 210.50v2.2M359.48 354.40v-2.2M359.48 210.50v2.2M377.72 354.40v-2.2M377.72 210.50v2.2M395.96 354.40v-2.2M395.96 210.50v2.2M414.20 354.40v-2.2M414.20 210.50v2.2M432.44 354.40v-2.2M432.44 210.50v2.2M450.68 354.40v-2.2M450.68 210.50v2.2M468.92 354.40v-2.2M468.92 210.50v2.2M487.16 354.40v-2.2M487.16 210.50v2.2M323.00 330.42h2.2M505.40 330.42h-2.2M323.00 306.43h2.2M505.40 306.43h-2.2M323.00 282.45h2.2M505.40 282.45h-2.2M323.00 258.47h2.2M505.40 258.47h-2.2M323.00 234.48h2.2M505.40 234.48h-2.2" stroke="#8a8a8a" stroke-width="0.8" fill="none"/>
<g font-size="5.5" fill="#222" stroke="#222" stroke-width="0.16">
<text x="323.00" y="362.70" text-anchor="middle">0</text>
<text x="341.24" y="362.70" text-anchor="middle">0.1</text>
<text x="359.48" y="362.70" text-anchor="middle">0.2</text>
<text x="377.72" y="362.70" text-anchor="middle">0.3</text>
<text x="395.96" y="362.70" text-anchor="middle">0.4</text>
<text x="414.20" y="362.70" text-anchor="middle">0.5</text>
<text x="432.44" y="362.70" text-anchor="middle">0.6</text>
<text x="450.68" y="362.70" text-anchor="middle">0.7</text>
<text x="468.92" y="362.70" text-anchor="middle">0.8</text>
<text x="487.16" y="362.70" text-anchor="middle">0.9</text>
<text x="505.40" y="362.70" text-anchor="middle">1</text>
<text x="320.20" y="356.07" text-anchor="end">0</text>
<text x="320.20" y="332.09" text-anchor="end">20</text>
<text x="320.20" y="308.10" text-anchor="end">40</text>
<text x="320.20" y="284.12" text-anchor="end">60</text>
<text x="320.20" y="260.14" text-anchor="end">80</text>
<text x="320.20" y="236.15" text-anchor="end">100</text>
<text x="320.20" y="212.17" text-anchor="end">120</text>
</g>
<g font-size="6.1" fill="#222" stroke="#222" stroke-width="0.16">
<text x="414.20" y="370.60" text-anchor="middle">w</text>
<text transform="translate(307.20 282.45) rotate(-90)" text-anchor="middle">Frequency</text>
</g>
<rect x="323.00" y="220.09" width="18.24" height="134.31" fill="#3d26a8" stroke="#1a1148" stroke-width="0.6"/>
<rect x="341.24" y="235.68" width="18.24" height="118.72" fill="#3d26a8" stroke="#1a1148" stroke-width="0.6"/>
<rect x="359.48" y="222.49" width="18.24" height="131.91" fill="#3d26a8" stroke="#1a1148" stroke-width="0.6"/>
<rect x="377.72" y="238.08" width="18.24" height="116.32" fill="#3d26a8" stroke="#1a1148" stroke-width="0.6"/>
<rect x="395.96" y="240.48" width="18.24" height="113.92" fill="#3d26a8" stroke="#1a1148" stroke-width="0.6"/>
<rect x="414.20" y="248.87" width="18.24" height="105.53" fill="#3d26a8" stroke="#1a1148" stroke-width="0.6"/>
<rect x="432.44" y="245.28" width="18.24" height="109.12" fill="#3d26a8" stroke="#1a1148" stroke-width="0.6"/>
<rect x="450.68" y="230.89" width="18.24" height="123.51" fill="#3d26a8" stroke="#1a1148" stroke-width="0.6"/>
<rect x="468.92" y="238.08" width="18.24" height="116.32" fill="#3d26a8" stroke="#1a1148" stroke-width="0.6"/>
<rect x="487.16" y="224.89" width="18.24" height="129.51" fill="#3d26a8" stroke="#1a1148" stroke-width="0.6"/>
<g font-family="'Liberation Serif', 'Times New Roman', serif" font-size="14.6" fill="#141414" stroke="#141414" stroke-width="0.15">
<text x="2.70" y="197.60" textLength="21.90" lengthAdjust="spacingAndGlyphs">sine</text>
<text x="29.10" y="197.60" textLength="71.60" lengthAdjust="spacingAndGlyphs">initialization</text>
<text x="105.20" y="197.60" textLength="61.60" lengthAdjust="spacingAndGlyphs">population</text>
<text x="171.20" y="197.60" textLength="66.60" lengthAdjust="spacingAndGlyphs">distribution</text>
<text x="260.60" y="189.80" textLength="45.60" lengthAdjust="spacingAndGlyphs">Improve</text>
<text x="311.10" y="189.80" textLength="23.20" lengthAdjust="spacingAndGlyphs">sine</text>
<text x="339.10" y="189.80" textLength="70.80" lengthAdjust="spacingAndGlyphs">initialization</text>
<text x="414.60" y="189.80" textLength="62.10" lengthAdjust="spacingAndGlyphs">population</text>
<text x="481.30" y="189.80" textLength="67.30" lengthAdjust="spacingAndGlyphs">distribution</text>
<text x="78.10" y="395.20" textLength="21.90" lengthAdjust="spacingAndGlyphs">sine</text>
<text x="104.60" y="395.20" textLength="57.80" lengthAdjust="spacingAndGlyphs">histogram</text>
<text x="336.10" y="388.80" textLength="46.40" lengthAdjust="spacingAndGlyphs">Improve</text>
<text x="389.10" y="388.80" textLength="22.20" lengthAdjust="spacingAndGlyphs">sine</text>
<text x="416.20" y="388.80" textLength="56.30" lengthAdjust="spacingAndGlyphs">histogram</text>
</g>
</svg>
</body></html>
